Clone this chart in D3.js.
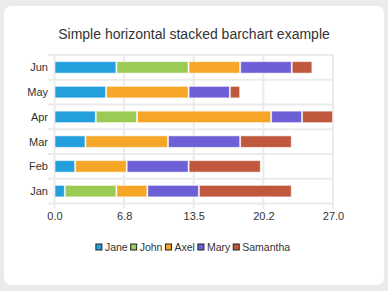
<!DOCTYPE html>
<html><head><meta charset="utf-8">
<script src="https://cdn.jsdelivr.net/npm/d3@7"></script>
<style>
html,body{margin:0;padding:0;background:#ebebeb;}
svg{display:block;font-family:"Liberation Sans",Arial,Helvetica,sans-serif;}
</style></head>
<body>
<svg id="c" width="388" height="291"></svg>
<script>
const categories = ["Jan","Feb","Mar","Apr","May","Jun"];
const seriesNames = ["Jane","John","Axel","Mary","Samantha"];
const jane = [1,2,3,4,5,6];
const john = [5,0,0,4,0,7];
const axel = [3,5,8,13,8,5];
const mary = [5,6,7,3,4,5];
const samantha = [9,7,5,3,1,2];
const tickLabels = ["0.0","6.8","13.5","20.2","27.0"];
const tickValues = [0,6.75,13.5,20.25,27];
const colors = ["#239fde","#9bcb55","#f5a626","#6d5fd6","#bf583d"];

const seriesValues = [jane,john,axel,mary,samantha];
const rows = categories.map((c,i)=>{
  const o = {cat:c};
  seriesNames.forEach((s,j)=>o[s]=seriesValues[j][i]);
  return o;
});
const stacked = d3.stack().keys(seriesNames)(rows);

const svg = d3.select("#c");
svg.append("rect").attr("x",4).attr("y",6).attr("width",380).attr("height",279)
  .attr("rx",7).attr("fill","#fff");

svg.append("text").attr("x",194).attr("y",39).attr("text-anchor","middle")
  .attr("font-size",14).attr("fill","#333").text("Simple horizontal stacked barchart example");

const x = d3.scaleLinear().domain([0,27]).range([54.5,333]);
const y = d3.scaleBand().domain(categories.slice().reverse()).range([55,203.5]).paddingInner(0);

const grid = svg.append("g");
grid.selectAll("line.v").data(tickValues).enter().append("line")
  .attr("x1",d=>x(d)).attr("x2",d=>x(d)).attr("y1",54).attr("y2",208.5)
  .attr("stroke","#ebebeb").attr("stroke-width",2);
const bounds = categories.map(c=>y(c)).concat([y.range()[1]]);
grid.selectAll("line.h").data(bounds).enter().append("line")
  .attr("x1",48).attr("x2",334).attr("y1",d=>d).attr("y2",d=>d)
  .attr("stroke","#ebebeb").attr("stroke-width",2);

const barH = 11.5;
svg.append("g").selectAll("g").data(stacked).enter().append("g")
  .attr("fill",(d,i)=>colors[i])
  .selectAll("rect").data(d=>d.filter(p=>p[1]-p[0]>0)).enter().append("rect")
  .attr("x",d=>x(d[0])+0.5)
  .attr("width",d=>x(d[1])-x(d[0])-1)
  .attr("y",d=>y(d.data.cat)+y.bandwidth()/2-barH/2)
  .attr("height",barH)
  .attr("stroke","rgba(255,255,255,0.55)").attr("stroke-width",1);

svg.append("g").selectAll("text").data(categories).enter().append("text")
  .attr("x",48).attr("y",d=>y(d)+y.bandwidth()/2+4)
  .attr("text-anchor","end").attr("font-size",11).attr("fill","#333").text(d=>d);

const xAxis = d3.axisBottom(x).tickValues(tickValues).tickFormat((d,i)=>tickLabels[i]).tickSize(0).tickPadding(0);
const ax = svg.append("g").attr("transform","translate(0,210)").call(xAxis);
ax.select(".domain").remove();
ax.selectAll("text").attr("font-size",11).attr("fill","#333")
  .attr("font-family","\"Liberation Sans\",Arial,sans-serif").attr("dy","0.71em").attr("y",2);

const legend = svg.append("g");
let lx = 0;
const items = [];
seriesNames.forEach((s,i)=>{
  const g = legend.append("g");
  g.append("rect").attr("x",0).attr("y",-7).attr("width",6).attr("height",6)
    .attr("fill",colors[i]).attr("stroke","#222").attr("stroke-width",1);
  const t = g.append("text").attr("x",9).attr("y",0).attr("font-size",10.5).attr("fill","#333").text(s);
  items.push({g, w: 9 + t.node().getComputedTextLength()});
});
const gap = 3;
const total = items.reduce((a,b)=>a+b.w,0)+gap*(items.length-1);
lx = 193 - total/2;
items.forEach(it=>{ it.g.attr("transform",`translate(${lx},251)`); lx += it.w+gap; });
</script>
</body></html>
